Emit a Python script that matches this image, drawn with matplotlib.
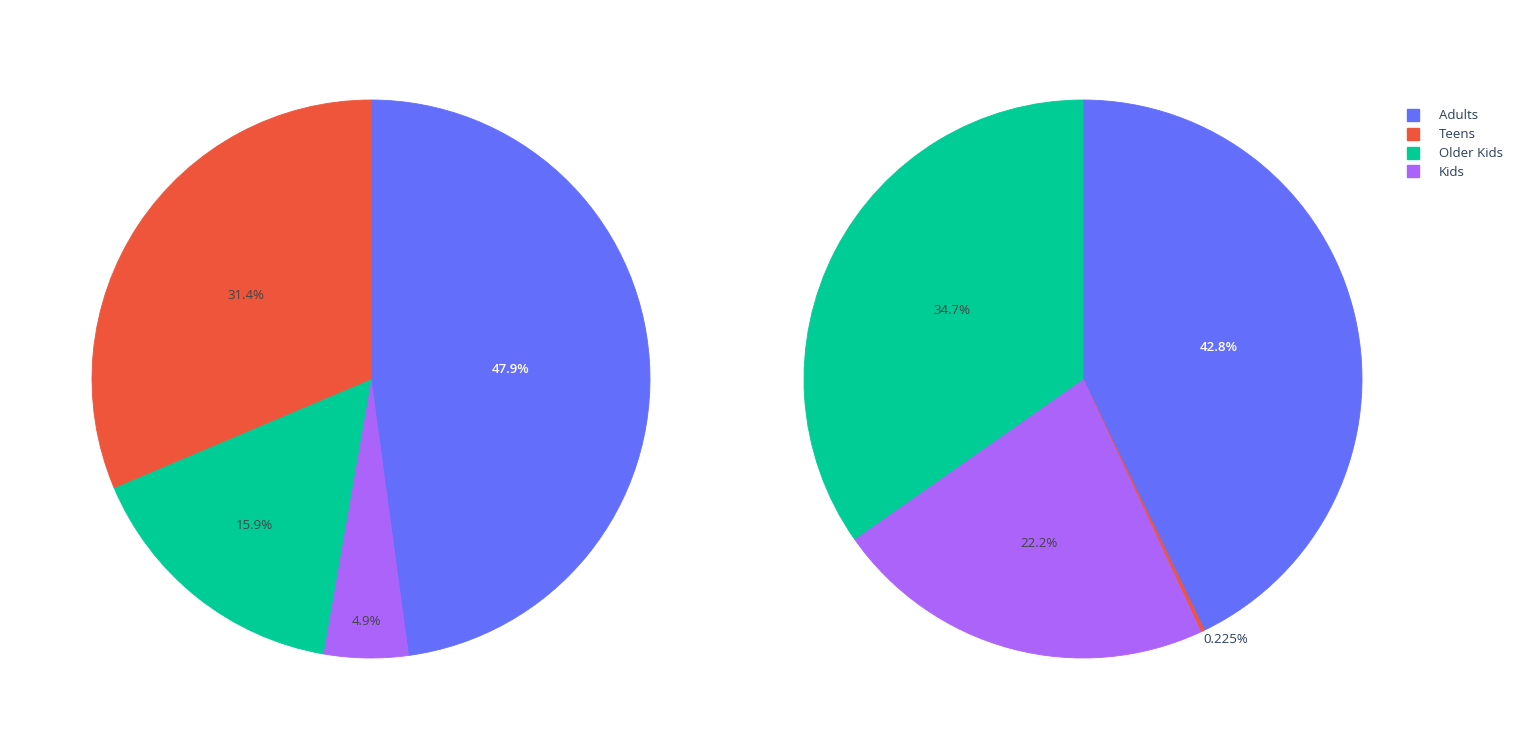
import matplotlib.pyplot as plt
import numpy as np
from matplotlib.lines import Line2D

# data (plotly-style two pies, share of each age group)
left_labels = ["Adults", "Kids", "Older Kids", "Teens"]
left_values = [47.9, 4.9, 15.9, 31.4]

right_labels = ["Adults", "Teens", "Kids", "Older Kids"]
right_values = [42.8, 0.225, 22.2, 34.7]

legend_order = ["Adults", "Teens", "Older Kids", "Kids"]

colors = {"Adults": "#636efa", "Teens": "#EF553B",
          "Older Kids": "#00cc96", "Kids": "#ab63fa"}
# radial position of the percent text, per slice (fraction of radius)
left_text_r = [0.5, 0.87, 0.67, 0.54]
right_text_r = [0.5, None, 0.61, 0.53]

plt.rcParams['font.family'] = ['Open Sans', 'DejaVu Sans']

W, H = 1520, 737
fig = plt.figure(figsize=(W / 100, H / 100), dpi=100)
R = 279


def draw_pie(cx, cy, labels, values, text_r):
    ax = fig.add_axes([(cx - R) / W, (H - cy - R) / H, 2 * R / W, 2 * R / H])
    cols = [colors[l] for l in labels]
    wedges, _ = ax.pie(values, colors=cols, startangle=90, counterclock=False,
                       wedgeprops=dict(linewidth=0.6, antialiased=True))
    for w, c in zip(wedges, cols):
        w.set_edgecolor(c)
    ax.set_xlim(-1, 1)
    ax.set_ylim(-1, 1)
    ax.set_aspect('equal')
    total = sum(values)
    for w, lab, v, tr in zip(wedges, labels, values, text_r):
        p = v / total * 100
        txt = f"{p:.3g}%"
        mid = np.deg2rad((w.theta1 + w.theta2) / 2)
        if tr is None:
            # tiny slice: label outside the pie
            x, y = 1.01 * np.cos(mid), 1.01 * np.sin(mid)
            ax.text(x, y - 0.02, txt, ha='left', va='center', fontsize=9.5,
                    color='#2a3f5f', clip_on=False)
        else:
            x, y = tr * np.cos(mid), tr * np.sin(mid)
            tc = 'white' if lab == "Adults" else '#444444'
            fw = 'semibold' if lab == "Adults" else 'normal'
            ax.text(x, y, txt, ha='center', va='center', fontsize=9.5,
                    color=tc, fontweight=fw)
    return ax


draw_pie(371, 379, left_labels, left_values, left_text_r)
draw_pie(1083, 379, right_labels, right_values, right_text_r)

handles = [Line2D([], [], marker='s', linestyle='none', markersize=8.5,
                  markerfacecolor=colors[l], markeredgecolor=colors[l])
           for l in legend_order]
fig.legend(handles, legend_order, loc='upper left',
           bbox_to_anchor=(1401 / W, 1 - 104 / H), frameon=False,
           fontsize=9.5, labelcolor='#2a3f5f', handlelength=1.0,
           handletextpad=1.45, labelspacing=0.45, borderaxespad=0)

fig.savefig("out.png", dpi=100, facecolor='white')
